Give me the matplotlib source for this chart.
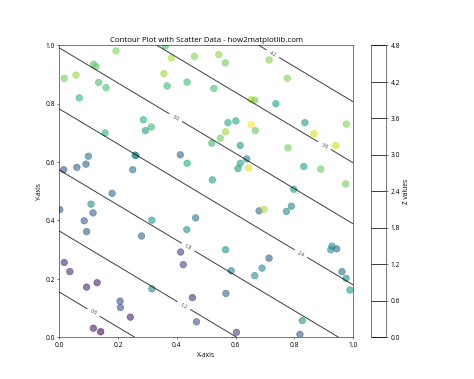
import numpy as np
import matplotlib.pyplot as plt

plt.rcParams['font.family'] = ['Open Sans', 'DejaVu Sans']

# plane fitted to the contour lines: z = z0 + zx*x + zy*y
z0, zx, zy = 0.155, 1.73, 2.87

# scatter points
x = [0.193, 0.117, 0.125, 0.017, 0.057, 0.134, 0.159, 0.068, 0.286, 0.293,
     0.313, 0.156, 0.099, 0.261, 0.258, 0.060, 0.091, 0.015, 0.250,
     0.361, 0.381, 0.460, 0.543, 0.565, 0.356, 0.367, 0.435, 0.526, 0.653,
     0.665, 0.574, 0.601, 0.653, 0.667, 0.566, 0.548, 0.519, 0.616, 0.412,
     0.435, 0.638, 0.616, 0.608, 0.644, 0.521,
     0.714, 0.776, 0.737, 0.836, 0.977, 0.867, 0.941, 0.778, 0.832, 0.890,
     0.975, 0.798,
     0.180, 0.108, 0.002, 0.115, 0.085, 0.093, 0.315, 0.280, 0.017, 0.036,
     0.093, 0.129, 0.315, 0.207, 0.208, 0.242, 0.116, 0.141,
     0.464, 0.434, 0.413, 0.422, 0.566, 0.585, 0.665, 0.453, 0.567, 0.467,
     0.603,
     0.680, 0.697, 0.773, 0.790, 0.928, 0.924, 0.944, 0.714, 0.690, 0.962,
     0.976, 0.989, 0.827, 0.819]
y = [0.981, 0.935, 0.927, 0.887, 0.898, 0.873, 0.855, 0.820, 0.745, 0.708,
     0.720, 0.700, 0.620, 0.622, 0.624, 0.582, 0.593, 0.574, 0.574,
     0.998, 0.957, 0.962, 0.968, 0.940, 0.903, 0.861, 0.874, 0.852, 0.814,
     0.812, 0.735, 0.741, 0.728, 0.708, 0.704, 0.682, 0.665, 0.657, 0.625,
     0.596, 0.611, 0.596, 0.578, 0.580, 0.539,
     0.950, 0.887, 0.800, 0.735, 0.730, 0.697, 0.657, 0.649, 0.585, 0.576,
     0.525, 0.507,
     0.493, 0.456, 0.437, 0.426, 0.399, 0.362, 0.401, 0.347, 0.256, 0.225,
     0.172, 0.187, 0.166, 0.124, 0.102, 0.069, 0.031, 0.019,
     0.409, 0.369, 0.292, 0.249, 0.300, 0.228, 0.211, 0.136, 0.150, 0.053,
     0.017,
     0.433, 0.438, 0.431, 0.449, 0.312, 0.300, 0.303, 0.271, 0.237, 0.225,
     0.202, 0.162, 0.057, 0.010]
z = [3.8, 3.5, 3.6, 3.7, 4.0, 3.4, 3.4, 3.2, 3.1, 2.8,
     3.3, 3.1, 2.0, 2.3, 2.4, 1.8, 1.8, 1.6, 2.1,
     3.5, 4.1, 3.8, 3.9, 3.7, 4.0, 3.3, 3.3, 3.4, 4.2,
     3.7, 3.0, 2.9, 4.6, 3.6, 4.0, 3.7, 3.3, 2.7, 1.8,
     3.0, 2.3, 2.9, 2.8, 4.4, 2.8,
     3.8, 3.8, 2.8, 2.8, 3.8, 4.4, 4.3, 3.7, 2.9, 3.6,
     3.7, 2.8,
     1.9, 2.5, 1.8, 1.8, 1.7, 1.7, 2.8, 1.8, 1.0, 1.0,
     1.0, 0.9, 2.5, 1.5, 1.5, 0.9, 0.8, 0.5,
     2.1, 2.6, 1.2, 1.4, 2.6, 2.3, 2.5, 1.1, 1.8, 1.5,
     1.3,
     2.0, 4.1, 2.4, 2.4, 2.5, 2.5, 1.9, 1.7, 2.4, 2.0,
     2.5, 2.8, 2.6, 1.7]

# where the contour labels sit
label_pos = [(0.13, 0.12), (0.44, 0.15), (0.45, 0.34), (0.82, 0.28),
             (0.38, 0.71), (0.90, 0.65), (0.73, 0.98)]

gx = np.linspace(0, 1, 100)
X, Y = np.meshgrid(gx, gx)
Z = z0 + zx * X + zy * Y

plt.figure(figsize=(10, 8), dpi=47.4)
cs = plt.contour(X, Y, Z, colors='k', alpha=0.75)
plt.clabel(cs, inline=True, fontsize=8, manual=label_pos)
plt.scatter(x, y, c=z, cmap='viridis', s=100, alpha=0.6)
plt.colorbar(cs, label='Z values')
plt.title('Contour Plot with Scatter Data - how2matplotlib.com')
plt.xlabel('X-axis')
plt.ylabel('Y-axis')
plt.savefig('out.png', dpi=47.4)
